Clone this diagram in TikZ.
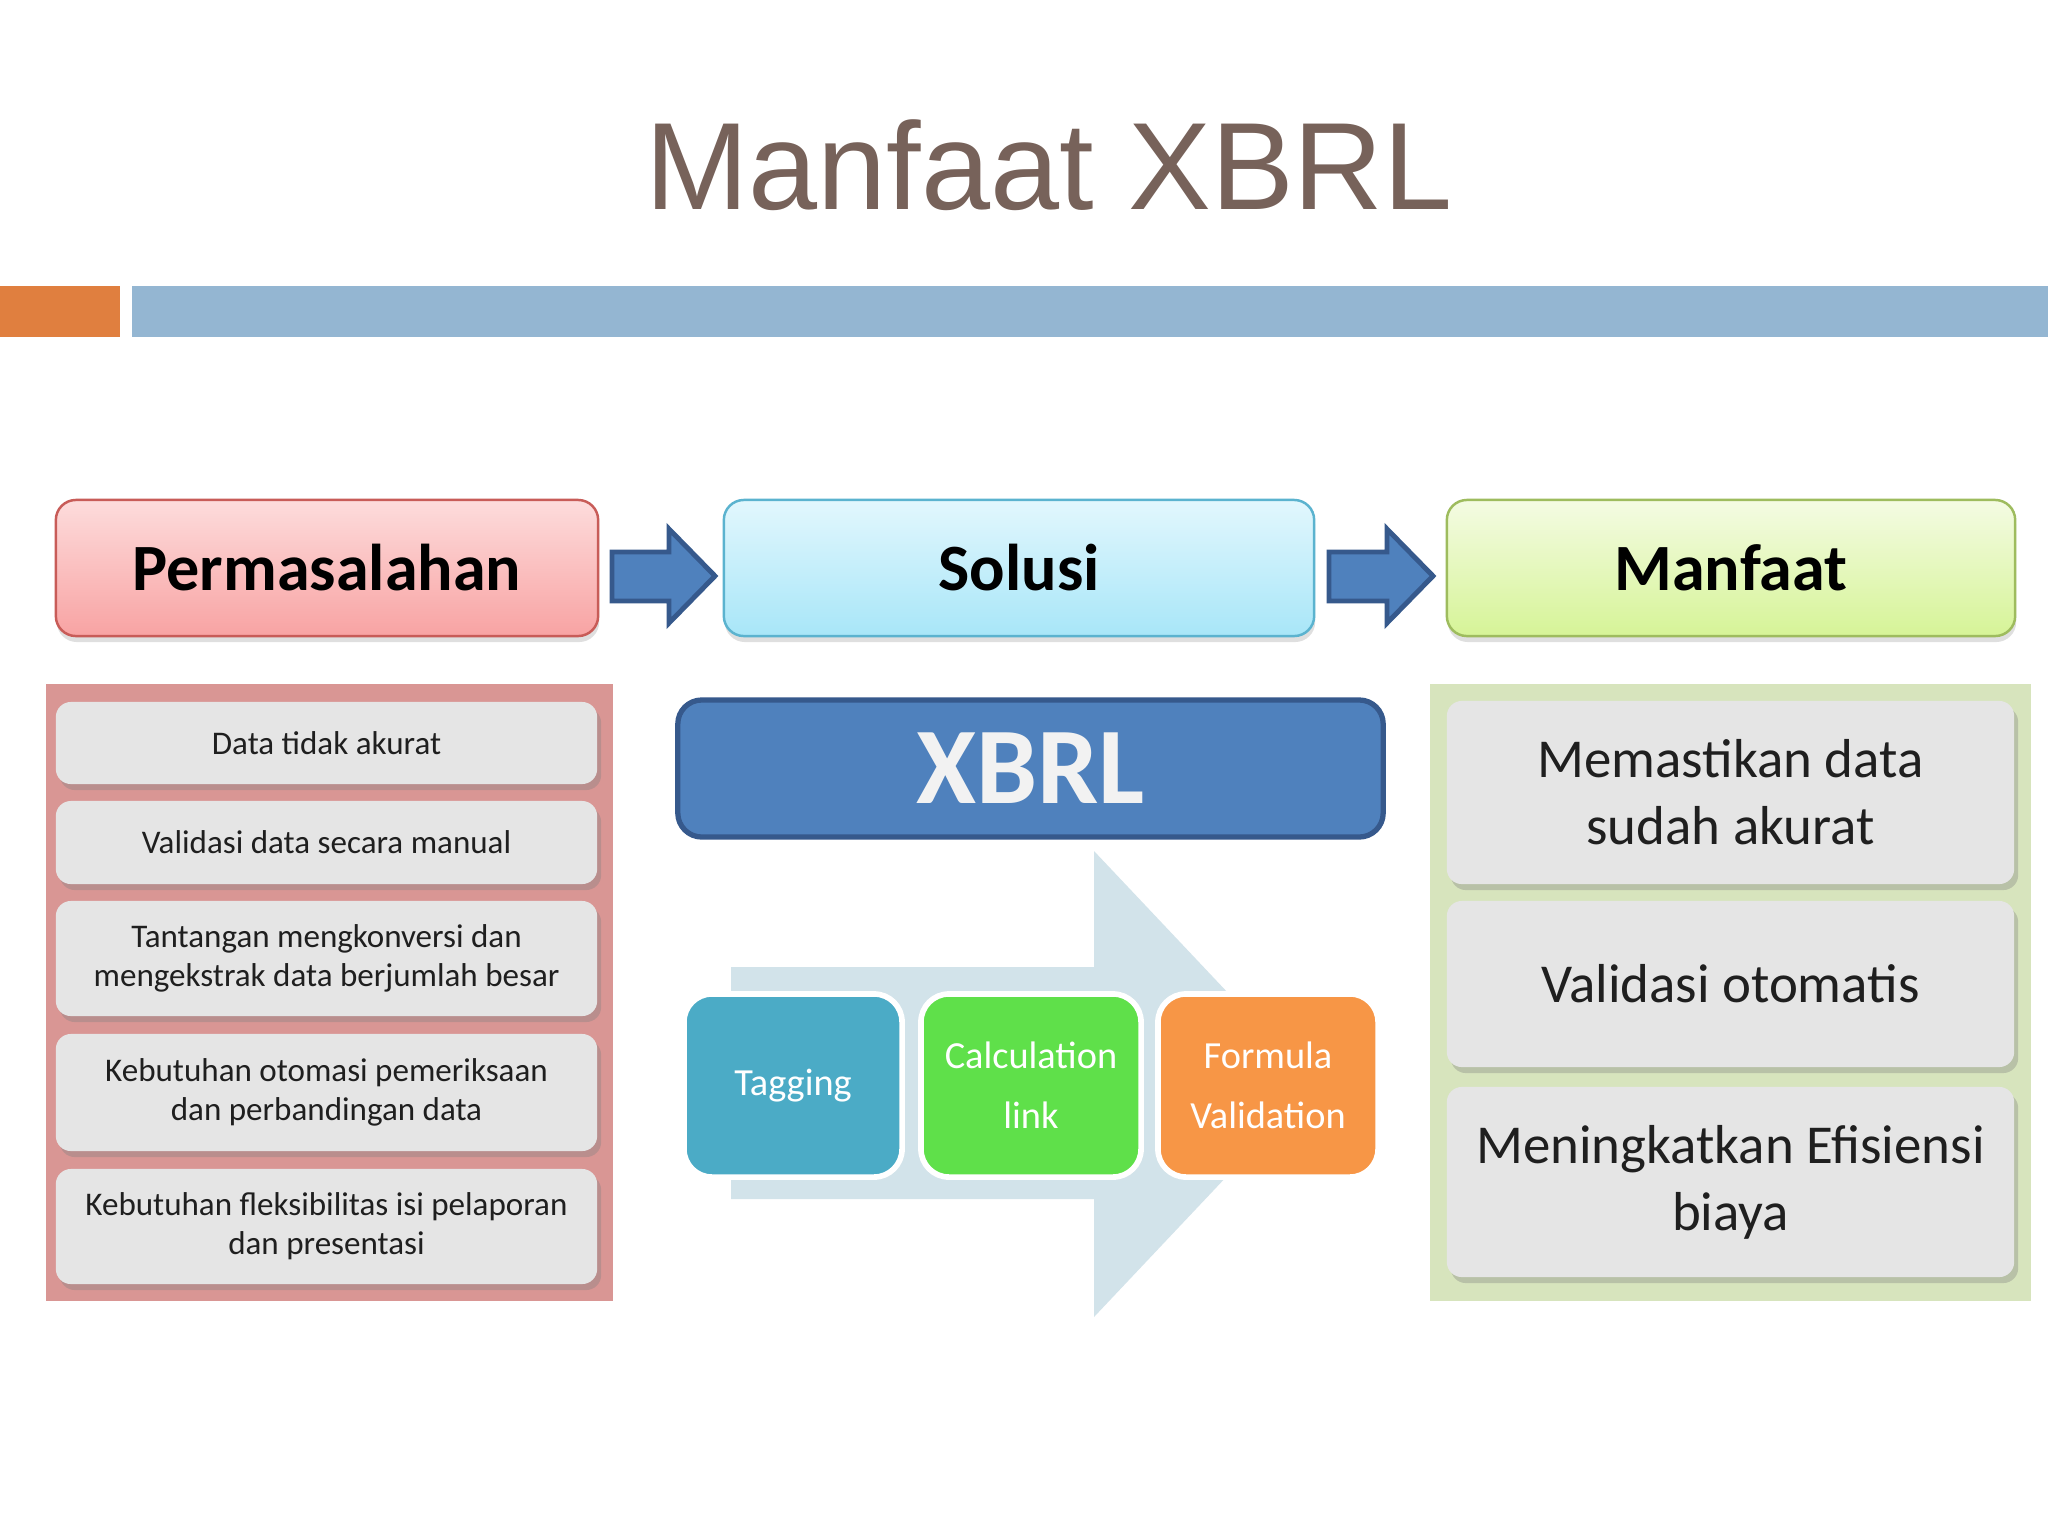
\documentclass[tikz,border=0pt]{standalone}
\usepackage{fontspec}
\setmainfont{Carlito}
\newfontfamily\titlefont{Liberation Sans}
\usetikzlibrary{shadows}
\definecolor{titlecol}{HTML}{77625A}
\definecolor{orangebar}{HTML}{E07F3F}
\definecolor{bluebar}{HTML}{94B6D2}
\definecolor{pinktop}{HTML}{FDDCDC}
\definecolor{pinkbot}{HTML}{F8A3A3}
\definecolor{pinkline}{HTML}{C85C58}
\definecolor{cyantop}{HTML}{E2F7FD}
\definecolor{cyanbot}{HTML}{A8E6F8}
\definecolor{cyanline}{HTML}{5BB3CF}
\definecolor{greentop}{HTML}{F4FBE3}
\definecolor{greenbot}{HTML}{D6F497}
\definecolor{greenline}{HTML}{9EBC5E}
\definecolor{arrowfill}{HTML}{4F81BD}
\definecolor{arrowline}{HTML}{36598C}
\definecolor{pinkpanel}{HTML}{D99694}
\definecolor{greenpanel}{HTML}{D7E4BD}
\definecolor{itemgray}{HTML}{E5E5E5}
\definecolor{bigarrow}{HTML}{D2E3EA}
\definecolor{tagcol}{HTML}{4BABC6}
\definecolor{calccol}{HTML}{5FE04A}
\definecolor{formcol}{HTML}{F79646}
\begin{document}
\begin{tikzpicture}[x=0.01cm,y=-0.01cm,
  hdr/.style={draw, line width=0.7pt, rounded corners=0.2cm, minimum height=1.36cm,
    font=\fontsize{18.8}{22}\selectfont\bfseries, text=black,
    drop shadow={shadow xshift=0.01cm, shadow yshift=-0.06cm, opacity=0.25}},
  litem/.style={fill=itemgray, rounded corners=0.15cm, minimum width=5.41cm,
    align=center, text=black!88, font=\fontsize{9.4}{11.1}\selectfont,
    drop shadow={shadow xshift=0.04cm, shadow yshift=-0.06cm, opacity=0.35}},
  ritem/.style={fill=itemgray, rounded corners=0.15cm, minimum width=5.67cm,
    align=center, text=black!88, font=\fontsize{15.6}{19}\selectfont,
    drop shadow={shadow xshift=0.04cm, shadow yshift=-0.06cm, opacity=0.35}},
  stepbox/.style={draw=white, line width=1.6pt, rounded corners=0.28cm,
    minimum height=1.83cm, align=center, text=white,
    font=\fontsize{10.9}{17}\selectfont},
  blockarrow/.style={fill=arrowfill, draw=arrowline, line width=1.4pt, line join=miter}
]
\useasboundingbox (0,0) rectangle (2048,1536);
\fill[white] (0,0) rectangle (2048,1536);

% title and bars
\node[font=\titlefont\fontsize{35.3}{40}\selectfont, text=titlecol, anchor=base] (title) at (1049,209) {Manfaat XBRL};
\fill[orangebar] (0,286) rectangle (120,337);
\fill[bluebar] (132,286) rectangle (2048,337);

% headers
\node[hdr, top color=pinktop, bottom color=pinkbot, draw=pinkline, minimum width=5.42cm] (perm) at (327,568) {Permasalahan};
\node[hdr, top color=cyantop, bottom color=cyanbot, draw=cyanline, minimum width=5.90cm] (solusi) at (1019,568) {Solusi};
\node[hdr, top color=greentop, bottom color=greenbot, draw=greenline, minimum width=5.68cm] (manfaat) at (1731,568) {Manfaat};

% block arrows between headers
\draw[blockarrow] (612,552) -- (669,552) -- (669,529) -- (715,576) -- (669,623) -- (669,601) -- (612,601) -- cycle;
\draw[blockarrow] (1329,552) -- (1387,552) -- (1387,529) -- (1433,576) -- (1387,623) -- (1387,601) -- (1329,601) -- cycle;

% panels
\fill[pinkpanel] (46,684) rectangle (613,1301);
\fill[greenpanel] (1430,684) rectangle (2031,1301);

% left items
\node[litem, minimum height=0.82cm] (l1) at (326.5,743) {Data tidak akurat};
\node[litem, minimum height=0.83cm] (l2) at (326.5,842.5) {Validasi data secara manual};
\node[litem, minimum height=1.15cm] (l3) at (326.5,958.5) {Tantangan mengkonversi dan\\mengekstrak data berjumlah besar};
\node[litem, minimum height=1.17cm] (l4) at (326.5,1092.5) {Kebutuhan otomasi pemeriksaan\\dan perbandingan data};
\node[litem, minimum height=1.15cm] (l5) at (326.5,1226.5) {Kebutuhan fleksibilitas isi pelaporan\\dan presentasi};

% right items
\node[ritem, minimum height=1.83cm] (r1) at (1730.5,792.5) {Memastikan data\\sudah akurat};
\node[ritem, minimum height=1.66cm] (r2) at (1730.5,984) {Validasi otomatis};
\node[ritem, minimum height=1.90cm] (r3) at (1730.5,1182) {Meningkatkan Efisiensi\\biaya};

% XBRL box
\node[fill=arrowfill, draw=arrowline, line width=1.5pt, rounded corners=0.24cm,
  minimum width=7.05cm, minimum height=1.37cm, text=black!5,
  font=\fontsize{31}{34}\selectfont\bfseries] (xbrl) at (1030.5,768.5) {XBRL};

% big light arrow
\fill[bigarrow] (731,967) -- (1094,967) -- (1094,851) -- (1314,1084) -- (1094,1317) -- (1094,1199) -- (731,1199) -- cycle;

% steps
\node[stepbox, fill=tagcol, minimum width=2.18cm] (tag) at (793,1085.5) {Tagging};
\node[stepbox, fill=calccol, minimum width=2.20cm] (calc) at (1031,1085.5) {Calculation\\link};
\node[stepbox, fill=formcol, minimum width=2.20cm] (form) at (1268,1085.5) {Formula\\Validation};
\end{tikzpicture}
\end{document}
